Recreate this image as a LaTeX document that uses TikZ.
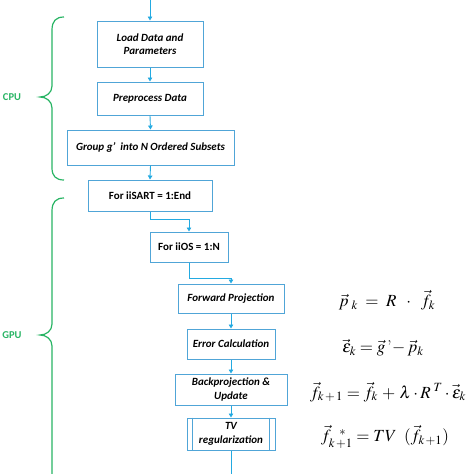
\documentclass[tikz,border=0pt]{standalone}
\usepackage{mathptmx}
\usepackage{fontspec}
\newfontfamily\boxfont{Carlito}
\usetikzlibrary{arrows.meta}
\definecolor{boxblue}{RGB}{80,165,215}
\definecolor{arrblue}{RGB}{35,170,225}
\definecolor{brgreen}{RGB}{40,180,100}
\tikzset{
  stepbox/.style={draw=boxblue, line width=1pt, fill=white, align=center, inner sep=1pt,
    font=\boxfont\bfseries\itshape\fontsize{11}{13.5}\selectfont},
  forbox/.style={stepbox, font=\boxfont\bfseries\fontsize{11}{13.5}\selectfont},
  arr/.style={draw=arrblue, line width=0.9pt, -{Triangle[length=4pt,width=4.5pt]}},
  plainline/.style={draw=arrblue, line width=0.9pt},
  brace/.style={draw=brgreen, line width=1.2pt},
  blabel/.style={text=brgreen, font=\boxfont\bfseries\fontsize{10.5}{12}\selectfont},
  eq/.style={font=\fontsize{17}{19}\selectfont}
}
\begin{document}
\begin{tikzpicture}[x=1pt,y=-1pt]
\useasboundingbox (0,0) rectangle (474,474);
\node[stepbox, minimum width=106pt, minimum height=46pt] (b1) at (150,44) {Load Data and\\Parameters};
\node[stepbox, minimum width=106pt, minimum height=33pt] (b2) at (150,98.5) {Preprocess Data};
\node[stepbox, minimum width=167pt, minimum height=35pt] (b3) at (150.5,147.5) {Group g’~ into N Ordered Subsets};
\node[forbox, minimum width=124pt, minimum height=31pt] (b4) at (150,195.5) {For iiSART = 1:End};
\node[forbox, minimum width=78pt, minimum height=30pt] (b5) at (189,247) {For iiOS = 1:N};
\node[stepbox, minimum width=106pt, minimum height=29pt] (fp) at (231,298.5) {Forward Projection};
\node[stepbox, minimum width=88pt, minimum height=30pt] (ec) at (231,344) {Error Calculation};
\node[stepbox, minimum width=112pt, minimum height=31pt] (bu) at (231,389.5) {Backprojection \&\\Update};
\node[stepbox, minimum width=88pt, minimum height=32pt] (tv) at (231,434) {TV\\regularization};
\draw[boxblue, line width=1pt] ([xshift=6pt]tv.north west) -- ([xshift=6pt]tv.south west);
\draw[boxblue, line width=1pt] ([xshift=-6pt]tv.north east) -- ([xshift=-6pt]tv.south east);
\coordinate (top) at (150,0);
\coordinate (bot) at (231,474);
\draw[arr] (top) -- (b1.north);
\draw[arr] (b1.south) -- (b2.north);
\draw[arr] (b2.south) -- (b3.north);
\draw[arr] (b3.south) -- (b4.north);
\draw[arr] (b4.south) -- ++(0,8) -| (b5.north);
\draw[arr] (b5.south) -- ++(0,16) -| (fp.north);
\draw[arr] (fp.south) -- (ec.north);
\draw[arr] (ec.south) -- (bu.north);
\draw[arr] (bu.south) -- (tv.north);
\draw[plainline] (tv.south) -- (bot);
% braces
\draw[brace] (64,17) .. controls (56,17) and (52,21) .. (52,30) -- (52,86)
  .. controls (52,93) and (46,97) .. (40,97) .. controls (46,97) and (52,101) .. (52,108)
  -- (52,168) .. controls (52,176) and (56,180) .. (64,180);
\draw[brace] (64,198) .. controls (56,198) and (52,202) .. (52,211) -- (52,324)
  .. controls (52,331) and (46,335) .. (40,335) .. controls (46,335) and (52,339) .. (52,346)
  -- (52,474);
\node[blabel] (cpu) at (12,97) {CPU};
\node[blabel] (gpu) at (12,335) {GPU};
% equations
\node[eq] (e1) at (387,300) {$\vec p_{\;k} \;=\; R \;\;\cdot\;\; \vec f_{k}$};
\node[eq] (e2) at (383,348) {$\vec \varepsilon_{k} = \vec g\,\textrm{'}\!- \vec p_{k}$};
\node[eq] (e3) at (388,392) {$\vec f_{k\,+\,1} = \vec f_{k} \,+\, \lambda\cdot R^{\;T}\cdot \vec\varepsilon_{k}$};
\node[eq] (e4) at (385,437) {$\vec f_{k\,+1}^{\;\;\;*} = TV\;\;(\vec f_{k\,+1})$};
\end{tikzpicture}
\end{document}
